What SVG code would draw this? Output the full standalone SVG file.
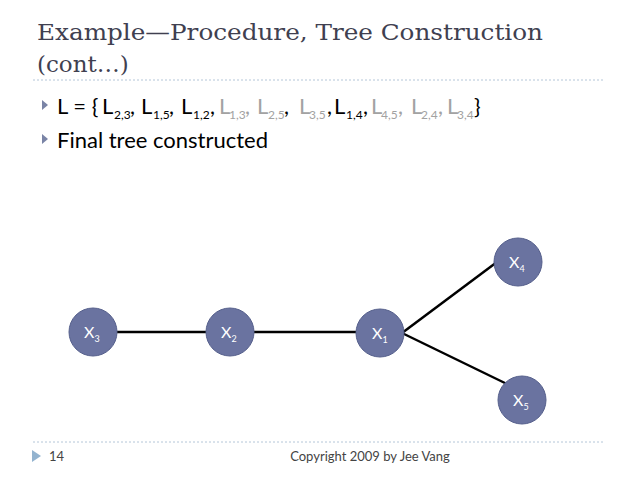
<svg xmlns="http://www.w3.org/2000/svg" width="638" height="478" viewBox="0 0 638 478">
<style>
.title{font-family:"DejaVu Serif","Liberation Serif",serif;font-size:23px;fill:#404050}
.body{font-family:Lato,"Open Sans","Liberation Sans",sans-serif;font-size:22px;fill:#000}
.sub{font-size:12px}
.g{fill:#a2a2a2}
.bul{fill:#7a84a6}
.node circle{fill:#6a73a0;stroke:#56608c;stroke-width:1}
.node text{font-family:Lato,"Open Sans","Liberation Sans",sans-serif;font-size:16px;fill:#fff}
.node .s{font-size:9px}
.edge{stroke:#000;stroke-width:2.5;fill:none}
.foot{font-family:Lato,"Open Sans","Liberation Sans",sans-serif;font-size:13px;fill:#444}
.dot{stroke:#b4c6d8;stroke-width:1;stroke-dasharray:2 2}
</style>
<rect width="638" height="478" fill="#fff"/>
<text class="title" x="37" y="40" textLength="506" lengthAdjust="spacingAndGlyphs">Example—Procedure, Tree Construction</text>
<text class="title" x="37" y="72">(cont…)</text>
<line class="dot" x1="33" y1="80" x2="605" y2="80"/>
<polygon class="bul" points="42,100 48,105 42,110"/>
<polygon class="bul" points="42,134 48,139 42,144"/>
<text class="body" y="114"><tspan x="57">L = {</tspan><tspan x="102">L</tspan><tspan x="130">,</tspan><tspan x="141">L</tspan><tspan x="169">,</tspan><tspan x="181">L</tspan><tspan x="210">,</tspan><tspan class="g" x="219">L</tspan><tspan class="g" x="245">,</tspan><tspan class="g" x="257">L</tspan><tspan x="284">,</tspan><tspan class="g" x="299">L</tspan><tspan x="327">,</tspan><tspan x="334">L</tspan><tspan x="363">,</tspan><tspan class="g" x="371">L</tspan><tspan class="g" x="398">,</tspan><tspan class="g" x="411">L</tspan><tspan class="g" x="438">,</tspan><tspan class="g" x="447">L</tspan><tspan x="474">}</tspan></text>
<text class="body sub" y="119"><tspan x="114">2,3</tspan><tspan x="153">1,5</tspan><tspan x="193">1,2</tspan><tspan class="g" x="229">1,3</tspan><tspan class="g" x="268">2,5</tspan><tspan class="g" x="309">3,5</tspan><tspan x="346">1,4</tspan><tspan class="g" x="381">4,5</tspan><tspan class="g" x="421">2,4</tspan><tspan class="g" x="457">3,4</tspan></text>
<text class="body" x="57" y="148">Final tree constructed</text>
<g id="connectors">
<line class="edge" x1="117" y1="332" x2="206" y2="332"/>
<line class="edge" x1="254" y1="332" x2="356" y2="332"/>
<line class="edge" x1="402" y1="333" x2="497" y2="262"/>
<line class="edge" x1="402" y1="333" x2="509" y2="385"/>
</g>
<g id="X3" class="node"><circle cx="93" cy="332" r="24"/><text x="84" y="338">X<tspan class="s" dy="4">3</tspan></text></g>
<g id="X2" class="node"><circle cx="230" cy="332" r="24"/><text x="221" y="338">X<tspan class="s" dy="4">2</tspan></text></g>
<g id="X1" class="node"><circle cx="380" cy="333" r="24"/><text x="372" y="339">X<tspan class="s" dy="4">1</tspan></text></g>
<g id="X4" class="node"><circle cx="518" cy="262" r="24"/><text x="509" y="268">X<tspan class="s" dy="4">4</tspan></text></g>
<g id="X5" class="node"><circle cx="522" cy="400" r="24"/><text x="513" y="406">X<tspan class="s" dy="4">5</tspan></text></g>
<line class="dot" x1="33" y1="442" x2="605" y2="442"/>
<polygon points="32,450 41,456 32,462" fill="#93b3cf"/>
<text class="foot" x="49" y="461">14</text>
<text class="foot" x="370" y="461" text-anchor="middle">Copyright 2009 by Jee Vang</text>
</svg>
